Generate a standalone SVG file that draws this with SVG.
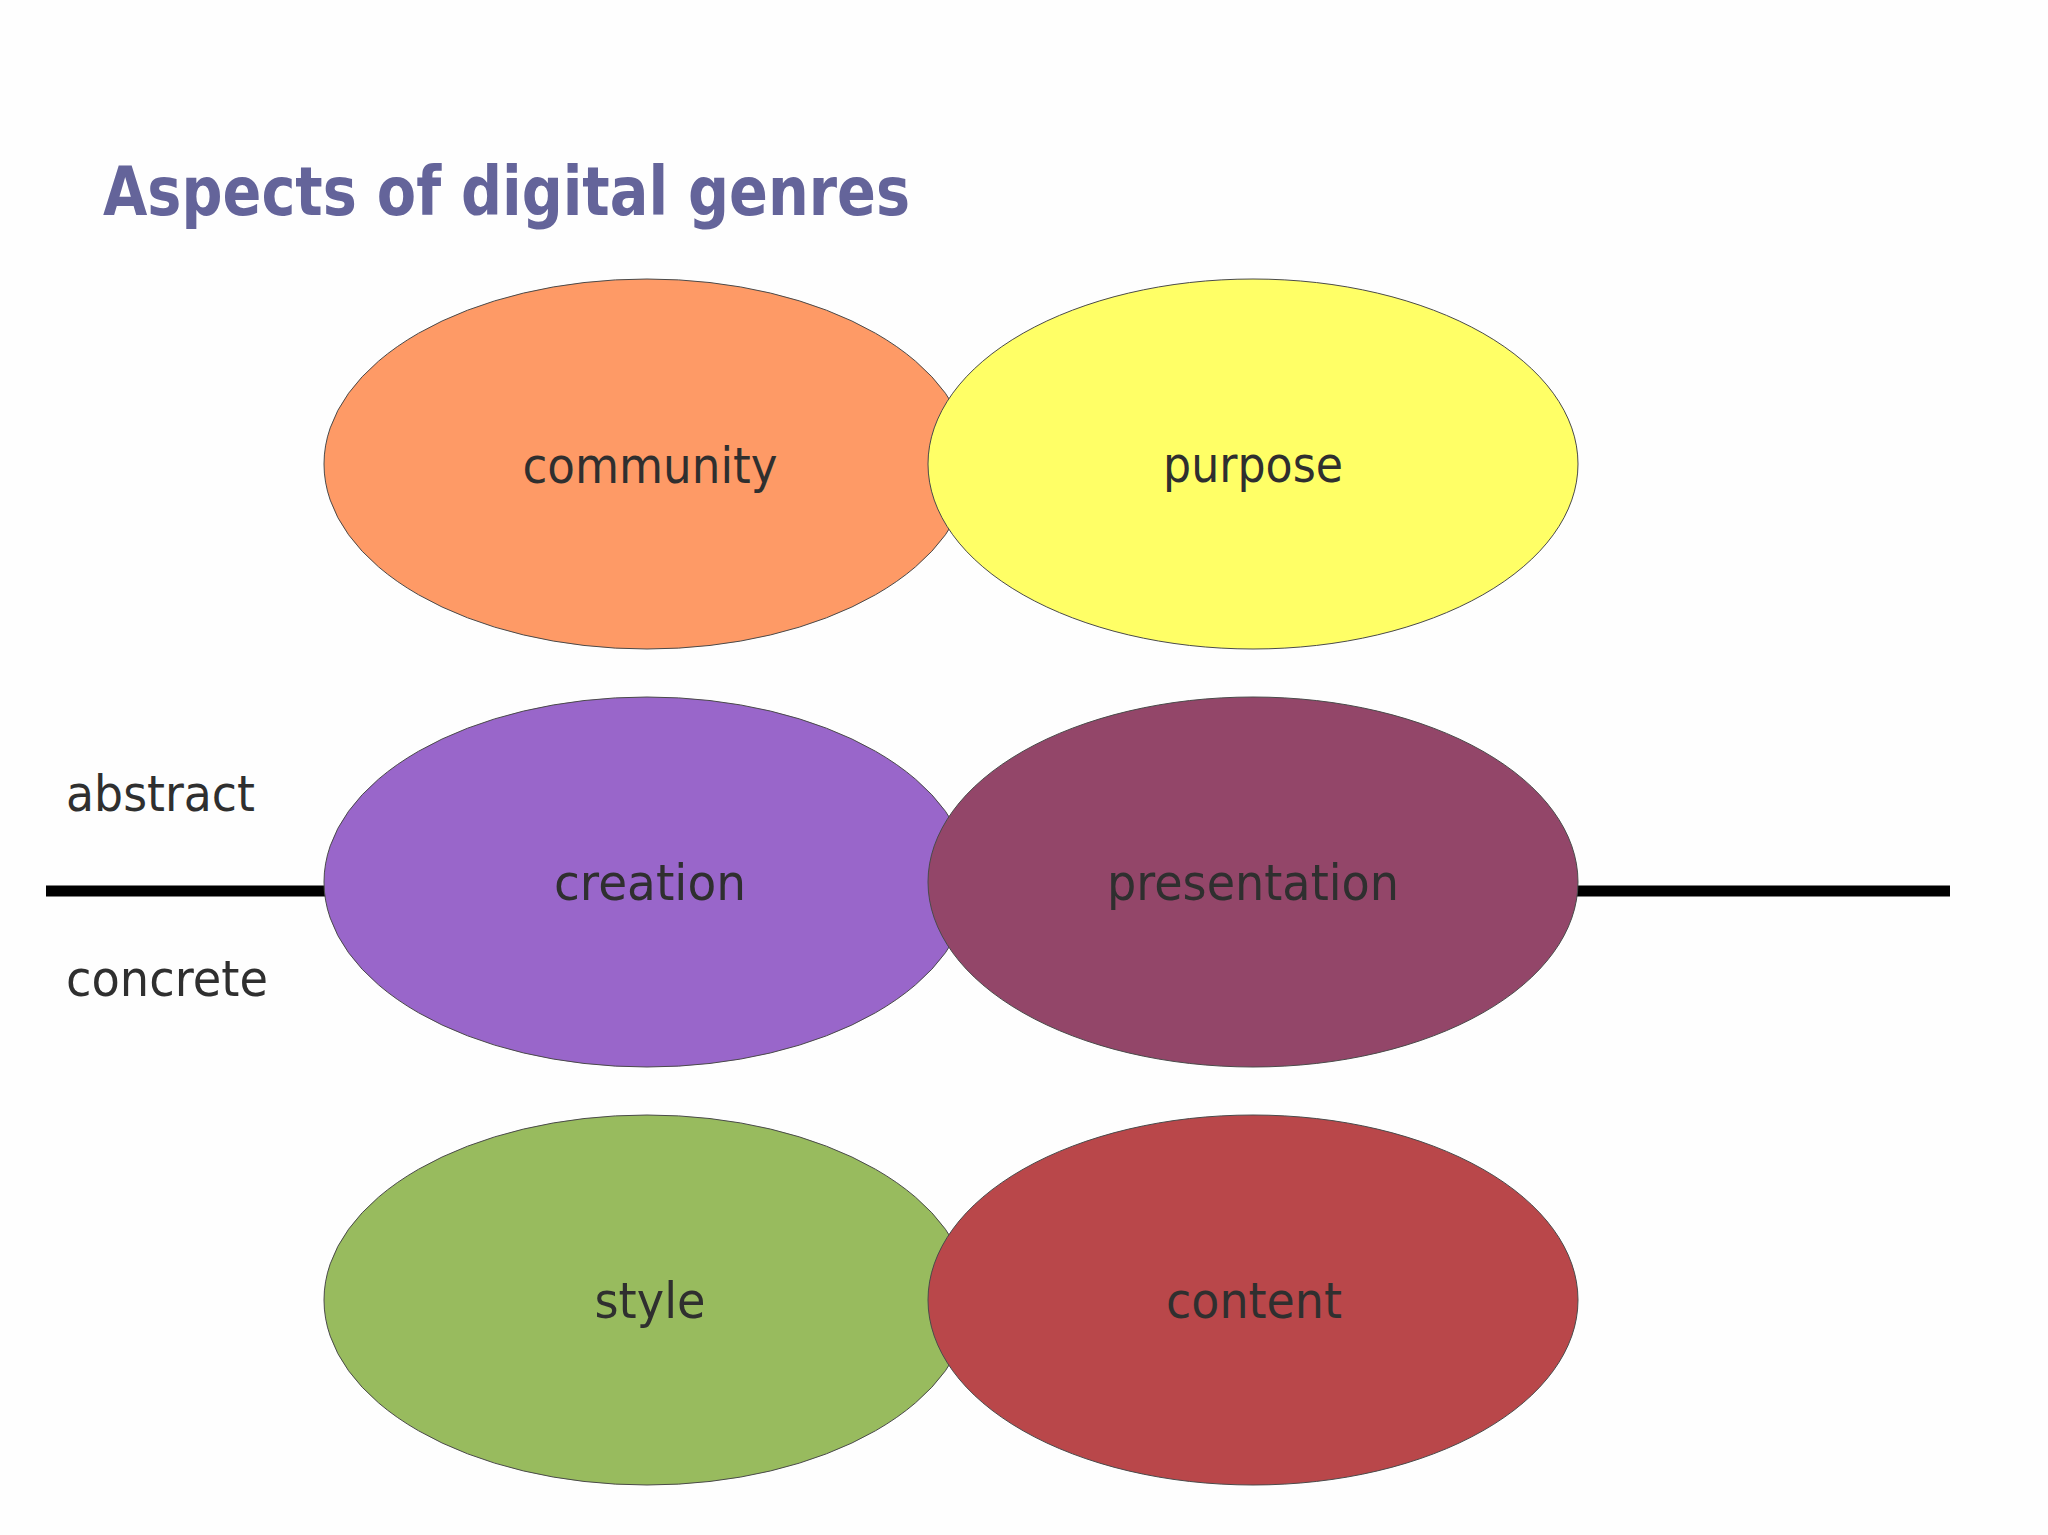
<svg xmlns="http://www.w3.org/2000/svg" width="2048" height="1535" viewBox="0 0 2048 1535">
<style>
.lbl{font-family:"DejaVu Sans","Liberation Sans",sans-serif;font-size:50px;fill:#2f2f2f;text-anchor:middle}
.side{font-family:"DejaVu Sans","Liberation Sans",sans-serif;font-size:50px;fill:#2f2f2f}
.title{font-family:"DejaVu Sans Condensed","DejaVu Sans","Liberation Sans",sans-serif;font-weight:bold;font-size:68px;fill:#64649a}
.el{stroke:#4a4a4a;stroke-width:1}
</style>
<rect width="2048" height="1535" fill="#fefefe"/>
<text class="title" x="103" y="215" textLength="807" lengthAdjust="spacingAndGlyphs">Aspects of digital genres</text>
<g id="connectors">
<line x1="46" y1="891" x2="1950" y2="891" stroke="#000" stroke-width="11"/>
</g>
<text class="side" x="66" y="811" textLength="189" lengthAdjust="spacingAndGlyphs">abstract</text>
<text class="side" x="66" y="996" textLength="202" lengthAdjust="spacingAndGlyphs">concrete</text>
<g id="community">
<ellipse class="el" cx="647" cy="464" rx="323" ry="185" fill="#fe9a66"/>
<text class="lbl" x="650" y="483" textLength="255" lengthAdjust="spacingAndGlyphs">community</text>
</g>
<g id="purpose">
<ellipse class="el" cx="1253" cy="464" rx="325" ry="185" fill="#ffff66"/>
<text class="lbl" x="1253" y="482" textLength="180" lengthAdjust="spacingAndGlyphs">purpose</text>
</g>
<g id="creation">
<ellipse class="el" cx="647" cy="882" rx="323" ry="185" fill="#9966ca"/>
<text class="lbl" x="650" y="900" textLength="192" lengthAdjust="spacingAndGlyphs">creation</text>
</g>
<g id="presentation">
<ellipse class="el" cx="1253" cy="882" rx="325" ry="185" fill="#934669"/>
<text class="lbl" x="1253" y="900" textLength="292" lengthAdjust="spacingAndGlyphs">presentation</text>
</g>
<g id="style">
<ellipse class="el" cx="647" cy="1300" rx="323" ry="185" fill="#98bb5e"/>
<text class="lbl" x="650" y="1318" textLength="111" lengthAdjust="spacingAndGlyphs">style</text>
</g>
<g id="content">
<ellipse class="el" cx="1253" cy="1300" rx="325" ry="185" fill="#b9474a"/>
<text class="lbl" x="1254" y="1318" textLength="176" lengthAdjust="spacingAndGlyphs">content</text>
</g>
</svg>
